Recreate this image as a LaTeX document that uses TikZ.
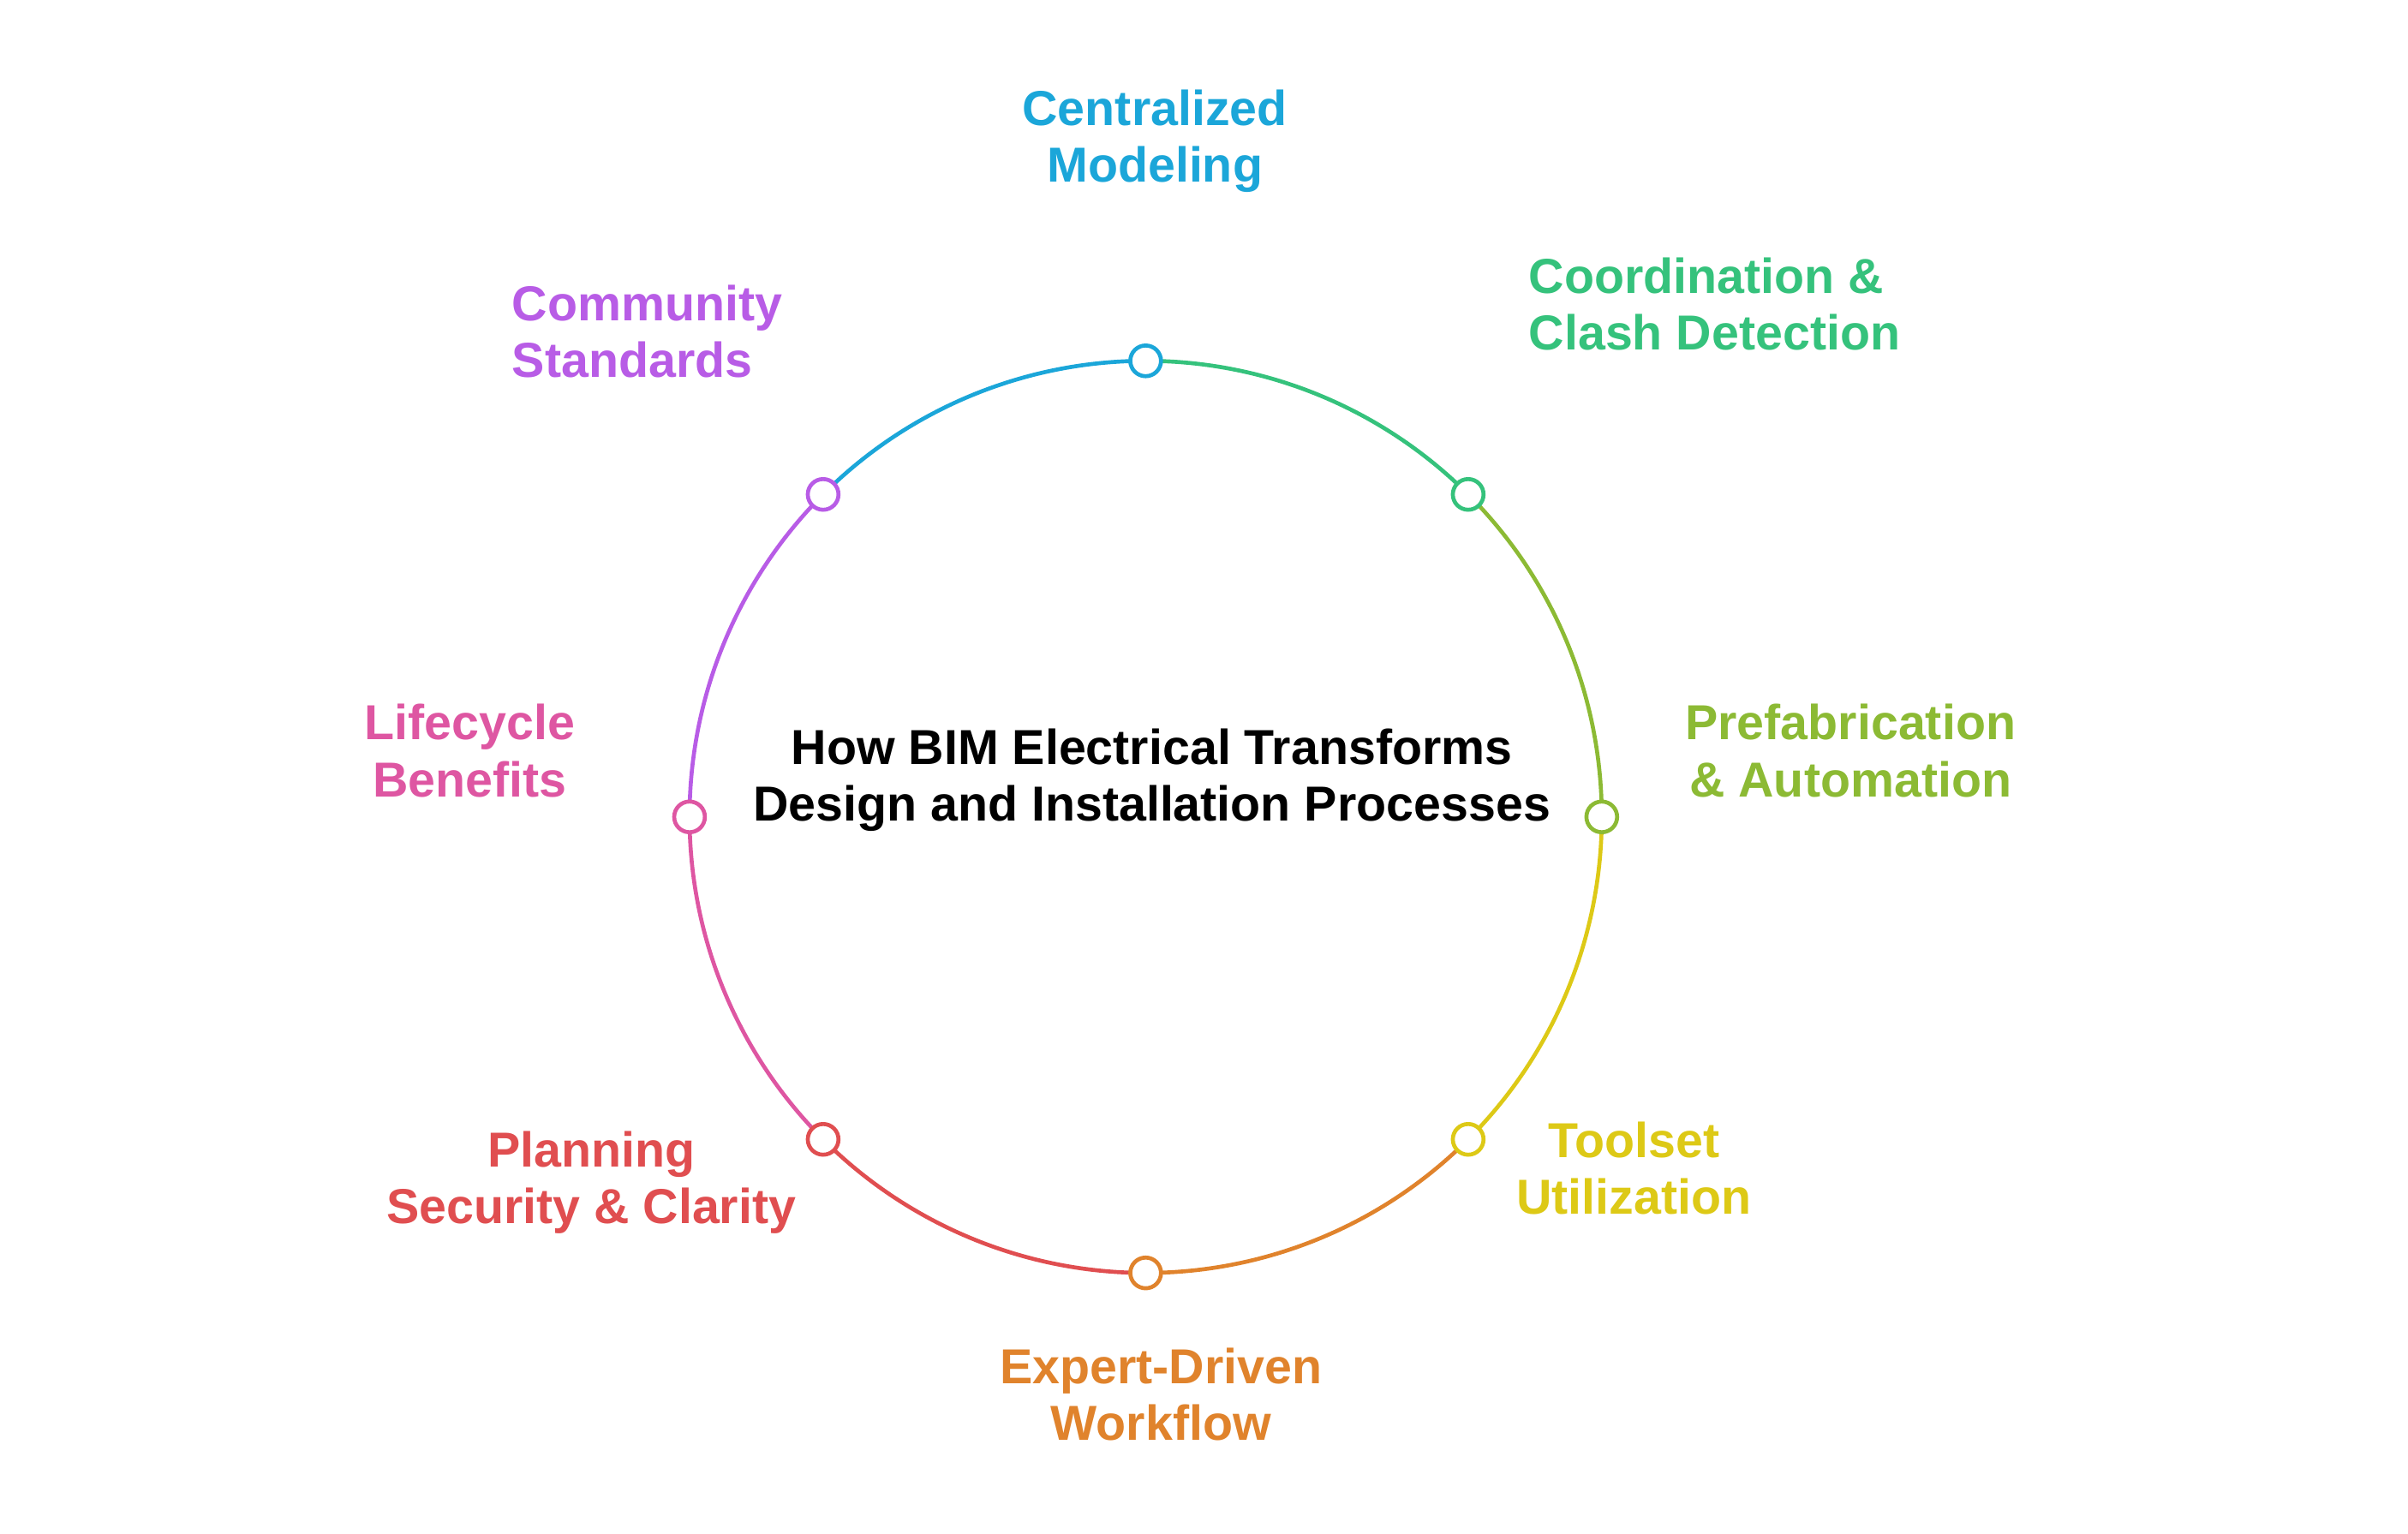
\documentclass[tikz,border=0pt]{standalone}
\usepackage{fontspec}
\setmainfont{Liberation Sans}
\definecolor{cblue}{HTML}{1BA6D9}
\definecolor{cgreen}{HTML}{35C27C}
\definecolor{colive}{HTML}{8CBA34}
\definecolor{cyellow}{HTML}{DDC916}
\definecolor{corange}{HTML}{E0832C}
\definecolor{cred}{HTML}{E04E50}
\definecolor{cpink}{HTML}{DE56A2}
\definecolor{cpurple}{HTML}{B85CE6}
\begin{document}
\begin{tikzpicture}
		[x=1pt,y=-1pt,
		place/.style={circle,draw=#1,fill=white,line width=2.6pt,
inner sep=0pt,minimum size=20pt},
		textstyle/.style={font=\bfseries\fontsize{32}{37}\selectfont,text=#1,align=center},
		edgestyle/.style={line width=2.6pt,#1}]
		\useasboundingbox (0,0) rectangle (1568,999);
		\coordinate (c) at (746,532);
		% arcs ending at each node
		\foreach \a/\col in {90/cgreen,45/colive,0/cyellow,-45/corange,-90/cred,-135/cpink,-180/cpurple,-225/cblue}
			\draw[edgestyle=\col] ([shift={(-\a:297)}]c) arc[start angle=-\a,end angle=-\a+45,radius=297];
		\node at ([shift={(-90:297)}]c) (n1) [place=cblue] {};
		\node at ([shift={(-45:297)}]c) (n2) [place=cgreen] {};
		\node at ([shift={(0:297)}]c) (n3) [place=colive] {};
		\node at ([shift={(45:297)}]c) (n4) [place=cyellow] {};
		\node at ([shift={(90:297)}]c) (n5) [place=corange] {};
		\node at ([shift={(135:297)}]c) (n6) [place=cred] {};
		\node at ([shift={(180:297)}]c) (n7) [place=cpink] {};
		\node at ([shift={(-135:297)}]c) (n8) [place=cpurple] {};
		% labels
		\node at (752,92) (l1) [textstyle=cblue] {Centralized\\Modeling};
		\node at (992,198) (l2) [textstyle=cgreen,anchor=west,align=left] {Coordination \&\\Clash Detection};
		\node at (1205,489) (l3) [textstyle=colive] {Prefabrication\\\& Automation};
		\node at (1064,761) (l4) [textstyle=cyellow] {Toolset\\Utilization};
		\node at (756,908) (l5) [textstyle=corange] {Expert-Driven\\Workflow};
		\node at (385,770) (l6) [textstyle=cred] {Planning\\Security \& Clarity};
		\node at (306,489) (l7) [textstyle=cpink] {Lifecycle\\Benefits};
		\node at (330,216) (l8) [textstyle=cpurple,anchor=west,align=left] {Community\\Standards};
		\node at (750,508) (title) [textstyle=black] {How BIM Electrical Transforms\\Design and Installation Processes};
	\end{tikzpicture}
\end{document}
